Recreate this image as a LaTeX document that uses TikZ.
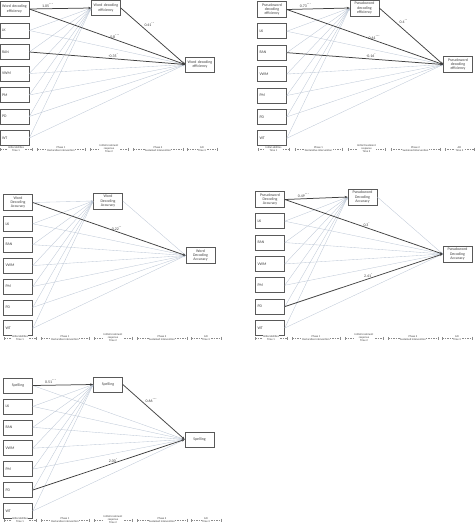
\documentclass[tikz,border=0pt]{standalone}
\usepackage{fontspec}
\setmainfont{Carlito}
\usetikzlibrary{positioning,arrows.meta}
\definecolor{colorbox}   {RGB}{ 89, 89, 89}
\definecolor{colortext}  {RGB}{ 60, 60, 60}
\definecolor{colorpath}  {RGB}{ 64, 64, 64}
\definecolor{colorweak}  {RGB}{190,200,214}
\definecolor{colorphase} {RGB}{140,140,140}

% the six predictor boxes below the first box of a panel
\newcommand{\predictors}[1]{%
    \node[predictor,below=of #1top] (#1lk)  {LK};
    \node[predictor,below=of #1lk]  (#1ran) {RAN};
    \node[predictor,below=of #1ran] (#1vwm) {VWM};
    \node[predictor,below=of #1vwm] (#1pm)  {PM};
    \node[predictor,below=of #1pm]  (#1pd)  {PD};
    \node[predictor,below=of #1pd]  (#1wt)  {WT};
}

% time line under a panel: prefix, left x, y
\newcommand{\phases}[3]{%
    \foreach \s/\e/\t [count=\i] in {0/32/{Initial abilities\\Time 1},
                                     37/85/{Phase 1\\Declarative intervention},
                                     90/128/{Initial treatment\\response\\Time 2},
                                     133/183/{Phase 2\\Sustained intervention},
                                     187/217/{AFI\\Time 3}} {
        \coordinate (#1s\i) at ({#2+\s},#3);
        \coordinate (#1e\i) at ({#2+\e},#3);
        \draw[phase] (#1s\i) -- (#1e\i) node[midway,phaselabel] {\t};
    }
}

\begin{document}
\begin{tikzpicture}[
    x=1pt, y=-1pt,
    font={\fontsize{3.9}{4.2}\selectfont},
    box/.style={draw=colorbox,line width=0.6pt,text=colortext,text width=25pt,inner sep=2pt,minimum height=15pt,align=center},
    predictor/.style={box,align=left},
    weak/.style={draw=colorweak,line width=0.35pt,-{Stealth[length=2.4pt,width=1.8pt]}},
    strong/.style={draw=colorpath,line width=0.75pt,-{Stealth[length=3pt,width=2.4pt]}},
    coef/.style={text=colortext,inner sep=0.8pt},
    phase/.style={draw=colorphase,line width=0.3pt,dash pattern=on 1.5pt off 1pt,{Bar[width=3pt]}-{Bar[width=3pt]}},
    phaselabel/.style={fill=white,text=colortext,inner sep=0.6pt,align=center,font={\fontsize{2.8}{3}\selectfont}},
]
    \useasboundingbox (0,0) rectangle (474,527);

    % word decoding efficiency
    \begin{scope}[node distance=5.9pt]
    \node[box] (atop) at (14.5,9)    {Word decoding\\efficiency};
    \predictors{a}
    \node[box] (amid) at (106,8)     {Word decoding\\efficiency};
    \node[box] (aout) at (200,64.5)  {Word decoding\\efficiency};
    \foreach \v in {lk,ran,vwm,pm,pd,wt} \draw[weak] (a\v.east) -- (amid.west);
    \foreach \v in {lk,vwm,pm,pd,wt}     \draw[weak] (a\v.east) -- (aout.west);
    \draw[strong] (atop.east) -- (amid.west) node[coef,pos=0.3,above]        {1.05\textsuperscript{***}};
    \draw[strong] (atop.east) -- (aout.west) node[coef,pos=0.55,above]       {0.8\textsuperscript{***}};
    \draw[strong] (aran.east) -- (aout.west) node[coef,pos=0.54,above]       {-0.35\textsuperscript{*}};
    \draw[strong] (amid.east) -- (aout.west) node[coef,pos=0.35,above right] {0.41\textsuperscript{**}};
    \phases{a}{0}{149}
    \end{scope}

    % pseudoword decoding efficiency
    \begin{scope}[node distance=5.8pt]
    \node[box] (btop) at (272,9.5)   {Pseudoword\\decoding\\efficiency};
    \predictors{b}
    \node[box] (bmid) at (364.5,8)   {Pseudoword\\decoding\\efficiency};
    \node[box] (bout) at (458,64.5)  {Pseudoword\\decoding\\efficiency};
    \foreach \v in {lk,ran,vwm,pm,pd,wt} \draw[weak] (b\v.east) -- (bmid.west);
    \foreach \v in {lk,vwm,pm,pd,wt}     \draw[weak] (b\v.east) -- (bout.west);
    \draw[strong] (btop.east) -- (bmid.west) node[coef,pos=0.3,above]        {0.73\textsuperscript{***}};
    \draw[strong] (btop.east) -- (bout.west) node[coef,pos=0.56,above]       {0.61\textsuperscript{***}};
    \draw[strong] (bran.east) -- (bout.west) node[coef,pos=0.54,above]       {-0.16\textsuperscript{*}};
    \draw[strong] (bmid.east) -- (bout.west) node[coef,pos=0.3,above right]  {0.4\textsuperscript{**}};
    \phases{b}{257.5}{149}
    \end{scope}

    % word decoding accuracy
    \begin{scope}[node distance=5.3pt]
    \node[box] (ctop) at (18,202.5)    {Word\\Decoding\\Accuracy};
    \predictors{c}
    \node[box] (cmid) at (108,201)     {Word\\Decoding\\Accuracy};
    \node[box] (cout) at (200.5,255.5) {Word\\Decoding\\Accuracy};
    \foreach \v in {top,lk,ran,vwm,pm,pd,wt} \draw[weak] (c\v.east) -- (cmid.west);
    \foreach \v in {lk,ran,vwm,pm,pd,wt}     \draw[weak] (c\v.east) -- (cout.west);
    \draw[weak] (cmid.east) -- (cout.west);
    \draw[strong] (ctop.east) -- (cout.west) node[coef,pos=0.55,above] {0.22\textsuperscript{**}};
    \phases{c}{4}{338}
    \end{scope}

    % pseudoword decoding accuracy
    \begin{scope}[node distance=5.75pt]
    \node[box] (dtop) at (270,199.5)   {Pseudoword\\Decoding\\Accuracy};
    \predictors{d}
    \node[box] (dmid) at (362.5,197)   {Pseudoword\\Decoding\\Accuracy};
    \node[box] (dout) at (457.5,254)   {Pseudoword\\Decoding\\Accuracy};
    \foreach \v in {lk,ran,vwm,pm,pd,wt} \draw[weak] (d\v.east) -- (dmid.west);
    \foreach \v in {lk,ran,vwm,pm,wt}    \draw[weak] (d\v.east) -- (dout.west);
    \draw[weak] (dmid.east) -- (dout.west);
    \draw[strong] (dtop.east) -- (dmid.west) node[coef,pos=0.3,above]  {0.49\textsuperscript{***}};
    \draw[strong] (dtop.east) -- (dout.west) node[coef,pos=0.52,above] {0.3\textsuperscript{*}};
    \draw[strong] (dpd.east)  -- (dout.west) node[coef,pos=0.53,above] {2.41\textsuperscript{*}};
    \phases{d}{255}{338}
    \end{scope}

    % spelling
    \begin{scope}[node distance=5.3pt]
    \node[box] (etop) at (18,385.5)    {Spelling};
    \predictors{e}
    \node[box] (emid) at (108,384.5)   {Spelling};
    \node[box] (eout) at (199.5,439.5) {Spelling};
    \foreach \v in {lk,ran,vwm,pm,pd,wt}     \draw[weak] (e\v.east) -- (emid.west);
    \foreach \v in {top,lk,ran,vwm,pm,wt}    \draw[weak] (e\v.east) -- (eout.west);
    \draw[strong] (etop.east) -- (emid.west) node[coef,pos=0.3,above]        {0.51\textsuperscript{***}};
    \draw[strong] (emid.east) -- (eout.west) node[coef,pos=0.35,above right] {0.66\textsuperscript{***}};
    \draw[strong] (epd.east)  -- (eout.west) node[coef,pos=0.53,above]       {2.00\textsuperscript{*}};
    \phases{e}{4}{520}
    \end{scope}

\end{tikzpicture}
\end{document}
